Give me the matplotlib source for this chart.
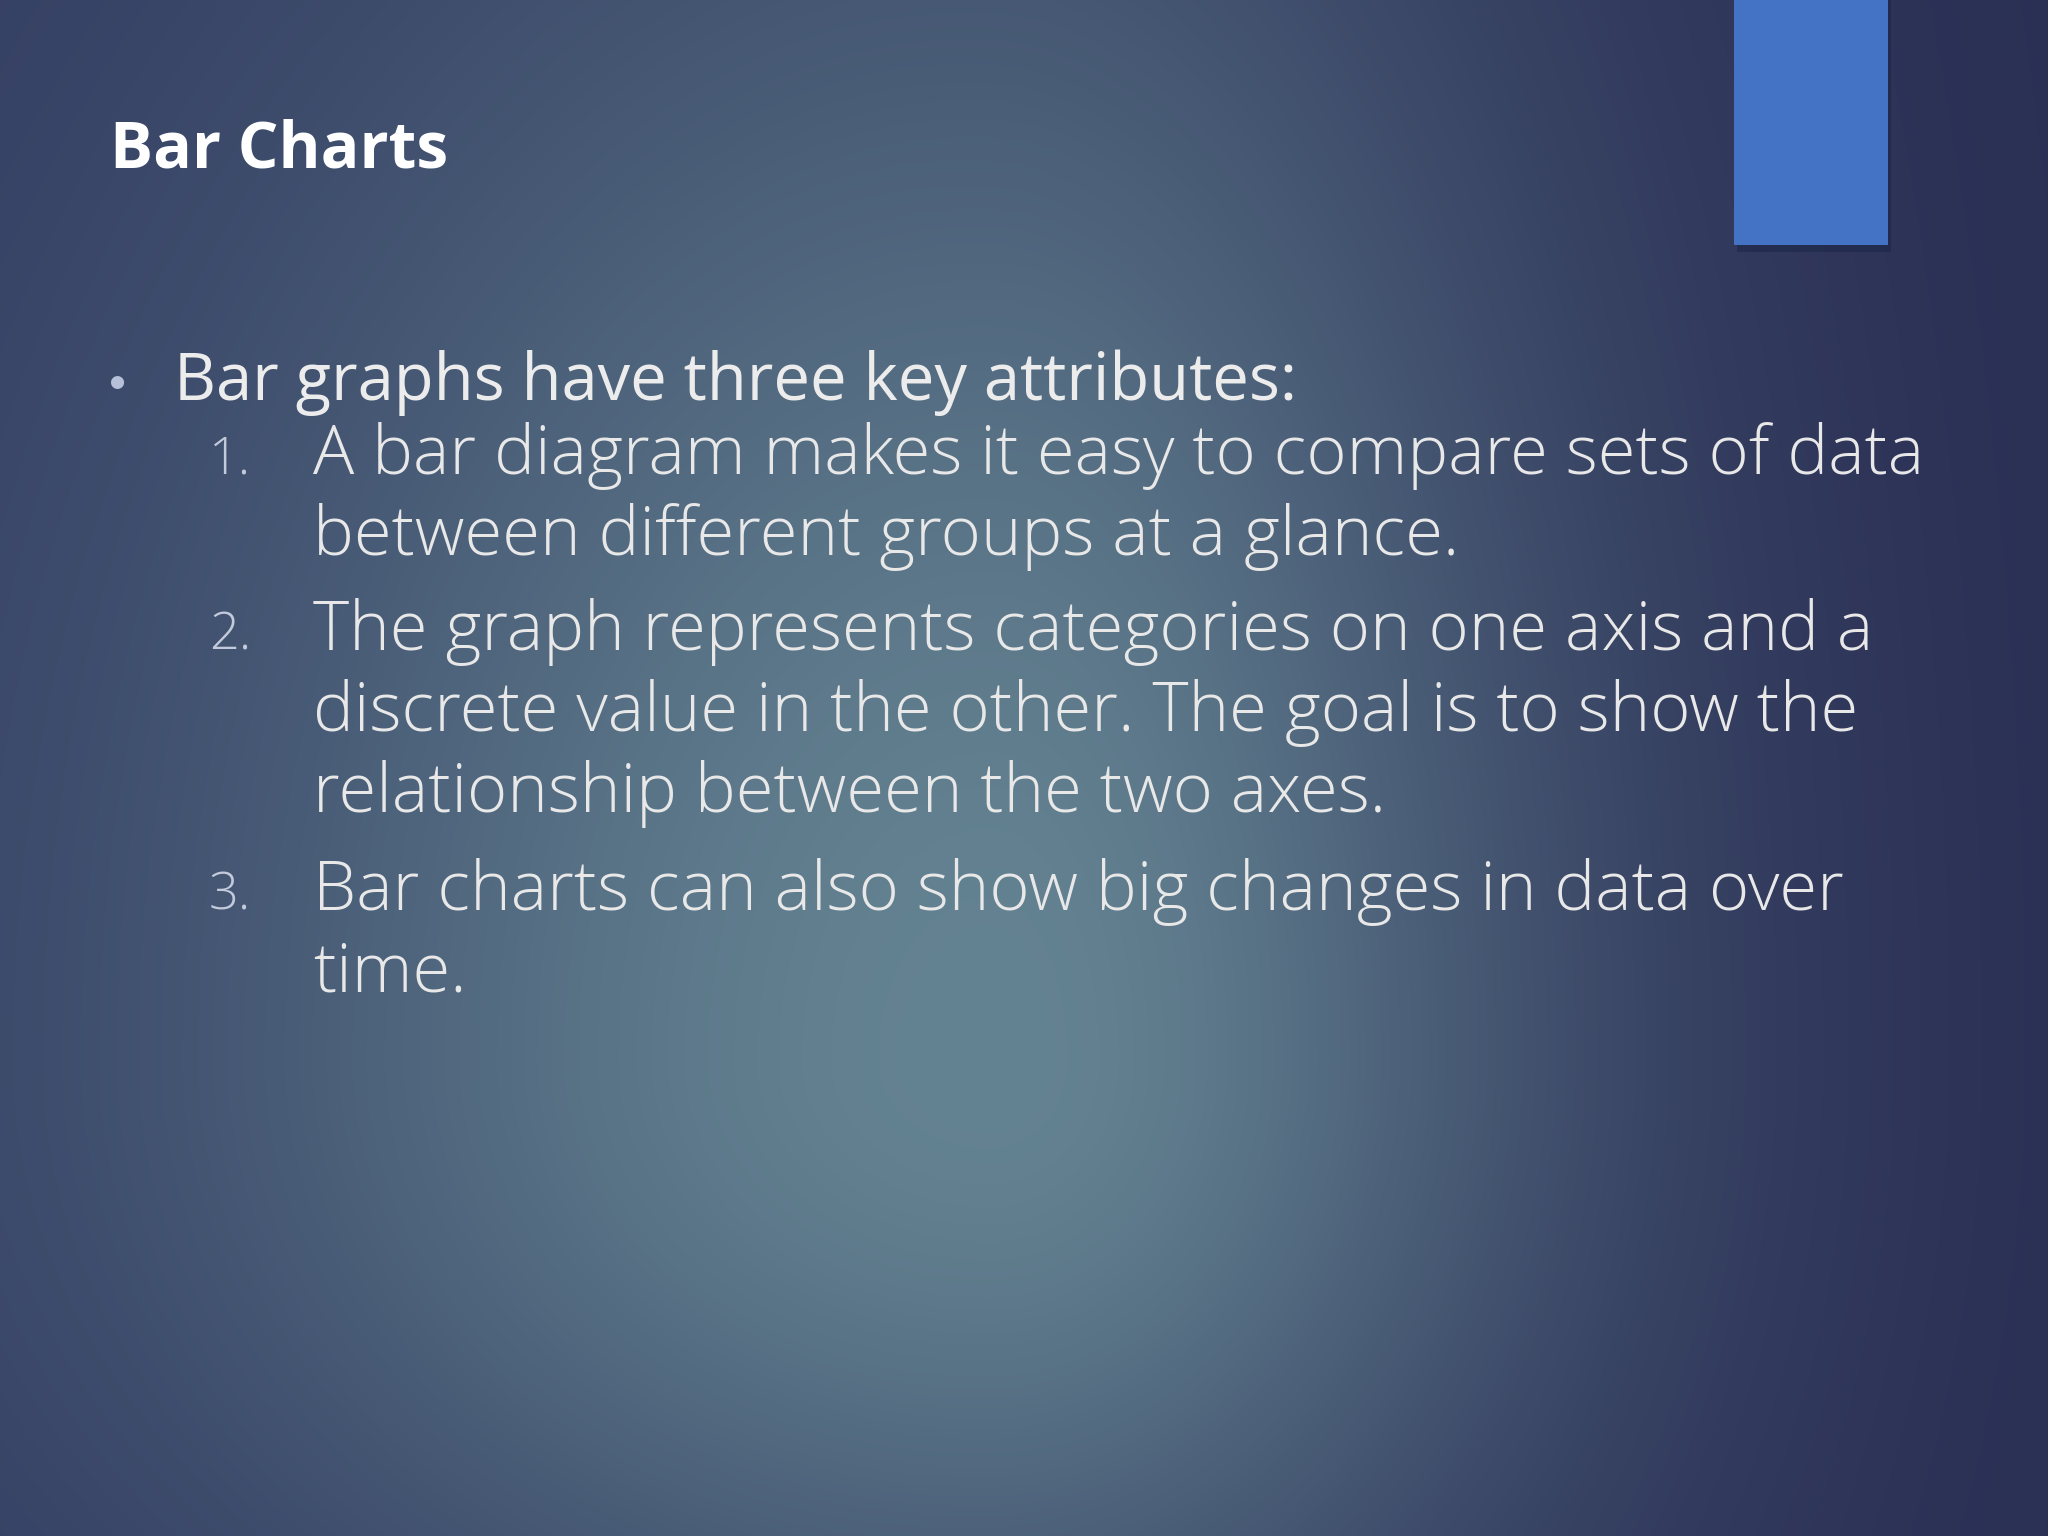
import numpy as np
import matplotlib
matplotlib.use("Agg")
import matplotlib.pyplot as plt
from matplotlib.patches import Rectangle

# ---- slide content ----
title_text = "Bar Charts"
header_text = "Bar graphs have three key attributes:"
item_numbers = ["1.", "2.", "3."]
item_lines = [
    ["A bar diagram makes it easy to compare sets of data",
     "between different groups at a glance."],
    ["The graph represents categories on one axis and a",
     "discrete value in the other. The goal is to show the",
     "relationship between the two axes."],
    ["Bar charts can also show big changes in data over",
     "time."],
]

W, H = 2048, 1536
DPI = 200
fig = plt.figure(figsize=(W / DPI, H / DPI), dpi=DPI)
ax = fig.add_axes([0, 0, 1, 1])
ax.set_xlim(0, W)
ax.set_ylim(H, 0)
ax.axis("off")

# ---- background gradient ----
yy, xx = np.mgrid[0:H:2, 0:W:2].astype(float)
cx, cy = 990.0, 1060.0
sx = np.where(xx < cx, 820.0, 560.0)
sy = np.where(yy < cy, 1200.0, 640.0)
t = np.exp(-((xx - cx) / sx) ** 2 - ((yy - cy) / sy) ** 2)
edge_l = np.array([0x31, 0x3a, 0x60]) / 255.0
edge_r = np.array([0x2a, 0x2f, 0x54]) / 255.0
wx = np.clip(xx / W, 0, 1)[..., None]
edge = edge_l * (1 - wx) + edge_r * wx
center = np.array([0x64, 0x83, 0x92]) / 255.0
img = edge * (1 - t[..., None]) + center * t[..., None]
ax.imshow(img, extent=[0, W, H, 0], aspect="auto", interpolation="bilinear", zorder=0)

# ---- blue accent block with shadow ----
ax.add_patch(Rectangle((1737, 0), 154, 252, facecolor="#1c2748", alpha=0.6,
                       edgecolor="none", zorder=1))
ax.add_patch(Rectangle((1734, 0), 154, 245, facecolor="#4472c4",
                       edgecolor="none", zorder=2))

fig.canvas.draw()
renderer = fig.canvas.get_renderer()

def width_of(t):
    return t.get_window_extent(renderer=renderer).width

def fitted(x, y, s, target_w, size0, **kw):
    t = ax.text(x, y, s, fontsize=size0, va="baseline", ha="left", zorder=5, **kw)
    w = width_of(t)
    t.set_fontsize(size0 * target_w / w)
    return t

fam = ["Open Sans", "Noto Sans", "DejaVu Sans"]

# title
fitted(110, 167, title_text, 338, 26, color="white", fontweight="bold", family=fam)

# bullet + header
ax.text(117, 382, "\u25CF", fontsize=6.2, color="#b6c0d8", va="center", ha="center",
        family=["DejaVu Sans"], zorder=5)
fitted(174, 400, header_text, 1123, 26, color="#ececec", fontweight="normal", family=fam)

# items: fit a common font size based on the longest lines
baselines = [[474, 555], [650, 731, 812], [910, 991]]
targets = {item_lines[0][0]: 1617, item_lines[1][0]: 1552,
           item_lines[1][1]: 1538, item_lines[2][0]: 1535}
scales = []
for s, tw in targets.items():
    tt = ax.text(0, 0, s, fontsize=24, fontweight="light", family=fam)
    scales.append(tw / width_of(tt))
    tt.remove()
fs = 24 * float(np.mean(scales))

for num, lines, ys in zip(item_numbers, item_lines, baselines):
    ax.text(209, ys[0], num, fontsize=fs * 0.76, color="#c3cadb", fontweight="light",
            family=fam, va="baseline", ha="left", zorder=5)
    for s, y in zip(lines, ys):
        ax.text(313, y, s, fontsize=fs, color="#e8e8e8", fontweight="light",
                family=fam, va="baseline", ha="left", zorder=5)

fig.savefig("out.png", dpi=DPI)
